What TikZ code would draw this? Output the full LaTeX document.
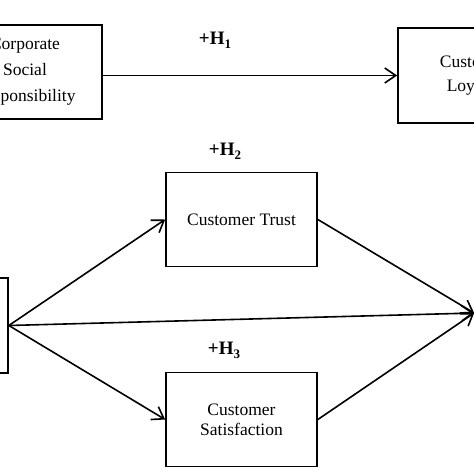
\documentclass[tikz,border=0pt]{standalone}
\usepackage{fontspec}
\setmainfont{Liberation Serif}
\usetikzlibrary{arrows.meta}
\begin{document}
\begin{tikzpicture}[x=1pt,y=-1pt,
  box/.style={draw, line width=1.7pt, inner sep=0pt, align=center,
    minimum width=151pt, minimum height=94pt},
  link/.style={line width=1.6pt,
    -{Straight Barb[length=11pt,width=15pt,line width=1.6pt]}},
  hyp/.style={inner sep=0pt, font=\fontsize{19}{20}\selectfont\bfseries}]
\useasboundingbox (0,0) rectangle (474,474);
\clip (0,0) rectangle (474,474);
% top row
\node[box, minimum width=154pt, font=\fontsize{17.5}{26}\selectfont] (csrA) at (25,72)
  {Corporate\\Social\\Responsibility};
\node[box, minimum width=152pt, minimum height=95pt, font=\fontsize{17.5}{24}\selectfont] (loyA) at (474,75.5)
  {Customer\\Loyalty};
\draw[link] (csrA.east |- loyA.west) -- (loyA.west);
\node[hyp] (h1) at (215,40) {+H\raisebox{-0.45ex}{\fontsize{13}{13}\selectfont 1}};
% bottom model
\node[box, minimum width=154pt, minimum height=95pt] (csrB) at (-69,325.5) {};
\node[box, minimum width=154pt, minimum height=95pt] (loyB) at (552,313) {};
\node[box, font=\fontsize{17.5}{24}\selectfont] (trust) at (241.5,219.5) {Customer Trust};
\node[box, font=\fontsize{17.5}{20}\selectfont] (sat) at (241.5,419.5) {Customer\\Satisfaction};
\coordinate (src) at (csrB.east);
\draw[link] (src) -- (trust.west);
\draw[link] (src) -- (sat.west);
\draw[link] (src) -- (loyB.west);
\draw[link] (trust.east) -- (loyB.west);
\draw[link] (sat.east) -- (loyB.west);
\node[hyp] (h2) at (225,151) {+H\raisebox{-0.45ex}{\fontsize{13}{13}\selectfont 2}};
\node[hyp] (h3) at (224,350) {+H\raisebox{-0.45ex}{\fontsize{13}{13}\selectfont 3}};
\end{tikzpicture}
\end{document}
